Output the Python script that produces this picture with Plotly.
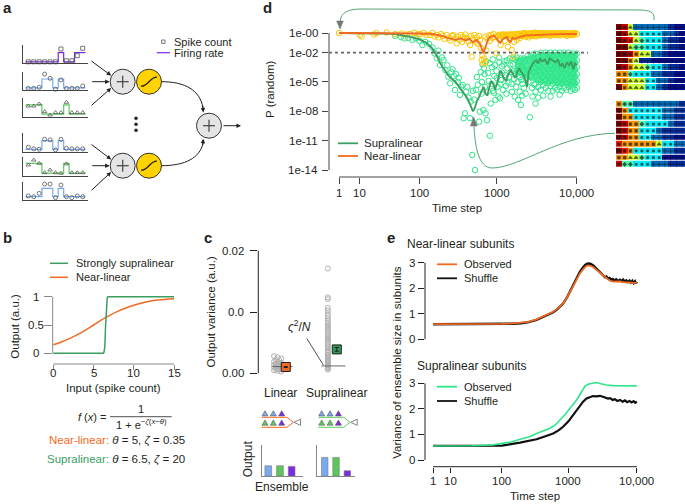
import math
import plotly.graph_objects as go

W, H = 685, 504
FONT = "Liberation Sans, Arial, Helvetica, sans-serif"
INK = "#231f20"
GREEN_LINE = "#3a9e5f"
GREEN_PT = "#2ee68a"
ORANGE = "#f26a21"
YELLOW = "#fcc500"
BLUE = "#78aaf2"
MGREEN = "#5cc85c"
PURPLE = "#7b2be2"

# ---------------- data ----------------
# panel a: firing rate (steps) and spike counts of six example inputs
a_rates = [
    [0.08, 0.08, 0.08, 0.08, 0.08, 0.08, 0.58, 0.08, 0.08, 0.58, 0.58],
    [0.12, 0.12, 0.12, 0.60, 0.60, 0.12, 0.60, 0.12, 0.12, 0.12, 0.12],
    [0.64, 0.64, 0.64, 0.13, 0.13, 0.13, 0.13, 0.64, 0.13, 0.13, 0.13],
    [0.12, 0.12, 0.12, 0.60, 0.60, 0.12, 0.60, 0.12, 0.12, 0.12, 0.12],
    [0.67, 0.67, 0.67, 0.13, 0.13, 0.13, 0.13, 0.67, 0.13, 0.13, 0.13],
    [0.18, 0.18, 0.18, 0.64, 0.64, 0.18, 0.64, 0.18, 0.18, 0.18, 0.18],
]
a_counts = [
    [0.08, 0.08, 0.08, 0.08, 0.08, 0.08, 0.78, 0.14, 0.14, 0.42, 0.82],
    [0.09, 0.09, 0.15, 0.87, 0.64, 0.04, 0.55, 0.09, 0.09, 0.09, 0.22],
    [0.58, 0.58, 0.69, 0.27, 0.09, 0.22, 0.22, 0.78, 0.22, 0.22, 0.22],
    [0.24, 0.15, 0.13, 0.67, 0.64, 0.09, 0.67, 0.18, 0.15, 0.15, 0.15],
    [0.58, 0.85, 0.67, 0.16, 0.31, 0.16, 0.13, 0.64, 0.16, 0.16, 0.16],
    [0.22, 0.18, 0.36, 0.87, 0.87, 0.13, 0.82, 0.18, 0.13, 0.22, 0.18],
]

# panel b: transfer functions
b_near_x = [0, 1, 2, 3, 4, 5, 6, 7, 8, 9, 10, 11, 12, 13, 14, 15]
b_near_y = [0.15, 0.20, 0.26, 0.33, 0.41, 0.50, 0.59, 0.67, 0.74, 0.80, 0.85, 0.89, 0.92, 0.94, 0.955, 0.965]
b_sup_x = [0, 6.2, 6.3, 6.4, 6.5, 6.6, 6.7, 6.8, 15]
b_sup_y = [0, 0, 0.02, 0.12, 0.5, 0.88, 0.98, 1, 1]
b_ticks_x = [0, 5, 10, 15]
b_ticks_y = [0, 0.5, 1]
b_tick_text_y = ["0", "0.5", "1"]

# panel c: output variance
lin_var = [0.0028, 0.0026, 0.0024, 0.0022, 0.0021, 0.0019, 0.0018, 0.0017, 0.0016, 0.0015,
           0.0014, 0.0013, 0.0012, 0.0012, 0.0011, 0.0010, 0.0009, 0.0008, 0.0007, 0.0006,
           0.0005, 0.0004, 0.0003]
sup_var = [0.0171, 0.0124, 0.0121, 0.0107, 0.0103, 0.0098, 0.0094, 0.0090, 0.0086, 0.0083,
           0.0080, 0.0077, 0.0074, 0.0071, 0.0068, 0.0065, 0.0062, 0.0059, 0.0056, 0.0053,
           0.0050, 0.0047, 0.0044, 0.0041, 0.0038, 0.0035, 0.0033, 0.0030, 0.0028, 0.0026,
           0.0024, 0.0022, 0.0020, 0.0018, 0.0016, 0.0014, 0.0012, 0.0010, 0.0008, 0.0006]
var_means = [0.00103, 0.0039]
var_sems = [0.00008, 0.0003]
var_expected = [0.0011, 0.0012]
c_ticks = [0, 0.01, 0.02]
c_tick_text = ["0.00", "0.0", "0.02"]
bar_linear = [0.33, 0.33, 0.31]
bar_supra = [0.60, 0.60, 0.17]

# panel d: P(random) over time (log10 values)
yel_t = [1, 10, 11, 20, 22, 33, 45, 56, 65, 74,
         85, 95, 102, 115, 125, 139, 150, 160, 171, 180,
         195, 205, 215, 230, 245, 255, 270, 281, 295, 310,
         320, 335, 350, 365, 377, 390, 400, 420, 440, 459,
         470, 482, 500, 520, 540, 560, 580, 600, 614, 630,
         645, 660, 677, 690, 710, 720, 740, 760, 790, 820,
         850, 880, 910, 950, 990, 1030, 1080, 1120, 1160, 1200,
         1260, 1320, 1380, 1440, 1500, 1540, 1610, 1650, 1700, 1780,
         1850, 1950, 2050, 2150, 2200, 2300, 2450, 2500, 2600, 2750,
         2900, 3000, 3100, 3300, 3500, 3600, 3750, 4000, 4300, 4600,
         4800, 5000, 5400, 5800, 6000, 6200, 6700, 7200, 7500, 7700,
         8200, 8800, 9000, 9400, 10000]
yel_p = [0, -0.2, -0.35, -0.15, 0, 0.05, -0.1, -0.05, -0.15, -0.1,
         0.02, -0.15, -0.1, 0, -0.2, -0.2, 0, -0.35, -0.2, -0.45,
         -0.1, -0.3, -0.6, -0.2, -0.5, -0.75, -0.3, -0.2, -0.55, -1.06,
         -0.35, -0.7, -0.2, -0.9, -0.4, -0.6, -0.15, -0.5, -0.85, -1.23,
         -0.3, -2.42, -0.6, -0.2, -0.9, -0.45, -1.1, -0.3, -0.7, -1.5,
         -2.76, -2.3, -3.1, -2.6, -3.0, -0.4, -1.8, -0.6, -0.25, -0.8,
         -0.2, -0.5, -0.1, -0.4, -2.08, -0.3, -0.7, -1.2, -0.4, -0.15,
         -0.8, -0.3, -1.4, -0.6, -0.2, -1.74, -2.42, -0.9, -0.4, -0.7,
         -0.1, -0.5, -0.3, -0.1, 0, -0.4, -0.2, -0.45, -0.05, -0.3,
         -0.15, 0.05, -0.35, -0.1, -0.25, -0.05, 0, -0.2, -0.1, -0.3,
         -0.15, -0.05, -0.2, -0.1, -0.05, -0.25, 0, -0.15, -0.3, -0.05,
         -0.2, -0.1, -0.2, 0, -0.1]
# solid-looking part of the near-linear cloud (upper / lower edge)
yband_t = [1000, 1500, 2200, 3000, 4000, 6000, 8000, 10000]
yband_hi = [0.12, 0.2, 0.28, 0.3, 0.3, 0.3, 0.3, 0.28]
yband_lo = [-0.45, -0.6, -0.6, -0.55, -0.5, -0.45, -0.42, -0.42]

grn_t = [45, 55, 62, 70, 80, 90, 100, 110, 120, 135,
         150, 160, 171, 180, 189, 200, 210, 222, 235, 242,
         255, 265, 275, 285, 295, 305, 320, 330, 342, 355,
         370, 380, 396, 410, 425, 440, 459, 470, 490, 500,
         520, 531, 545, 560, 575, 600, 610, 630, 650, 677,
         690, 700, 720, 751, 770, 790, 820, 840, 870, 900,
         930, 960, 990, 1020, 1050, 1080, 1100, 1130, 1160, 1200,
         1240, 1280, 1320, 1360, 1400, 1450, 1500, 1550, 1600, 1650,
         1700, 1750, 1800, 1850, 1900, 1950, 2000, 2050, 2100, 2150,
         2200, 2300, 2400, 2500, 2600, 2650, 2700, 2800, 2900, 2950,
         640, 660, 710, 735, 780, 810, 860, 890, 920, 950,
         1000, 1060, 1110, 1180, 1220, 1300, 1340, 1420, 1480, 1530,
         1580, 1630, 1680, 1720, 1780, 1830, 1880, 1930, 1980, 2030,
         2080, 2130, 2180, 2250, 2350, 2450, 2550, 2750, 2850, 2980]
grn_p = [-0.3, -0.42, -0.55, -0.5, -0.7, -0.55, -0.8, -1.23, -0.9, -1.1,
         -1.5, -2.08, -2.6, -1.8, -3.27, -2.5, -2.76, -3.8, -3.3, -4.46,
         -5.14, -4.0, -3.7, -4.4, -5.82, -4.2, -5.0, -4.6, -6.33, -5.5,
         -5.3, -8.7, -8.2, -6.0, -5.5, -6.6, -8.7, -7.0, -12.46, -5.9,
         -6.8, -14.0, -5.8, -4.5, -5.3, -9.06, -8.04, -4.0, -5.0, -7.87,
         -3.6, -4.2, -8.21, -8.9, -6.0, -4.9, -10.5, -7.2, -3.5, -5.9,
         -4.4, -6.84, -3.9, -5.5, -6.5, -3.0, -6.67, -4.8, -3.4, -5.8,
         -2.9, -4.3, -6.2, -3.6, -5.1, -2.6, -4.0, -6.0, -3.2, -4.7,
         -2.7, -5.5, -3.8, -6.84, -2.9, -4.5, -7.35, -3.5, -5.2, -2.6,
         -4.0, -6.2, -3.3, -5.0, -8.61, -2.4, -4.4, -6.5, -3.0, -5.3,
         -6.2, -3.2, -5.5, -2.9, -4.1, -3.1, -5.2, -2.7, -6.1, -3.3,
         -4.6, -2.5, -5.2, -4.1, -3.2, -5.4, -2.8, -4.5, -3.3, -5.2,
         -2.6, -3.9, -6.5, -4.2, -2.5, -5.0, -3.4, -6.0, -2.6, -4.8,
         -6.4, -3.8, -5.6, -2.9, -4.6, -2.3, -3.8, -5.6, -2.2, -4.0]
# dense late cloud, one column of values per time step
band_t = [3050, 3300, 3550, 3800, 4100, 4400, 4700, 5000, 5350, 5700,
          6100, 6500, 6900, 7400, 7900, 8400, 9000, 9500, 10000]
band_p = [
    [-2.1, -2.9, -3.6, -4.4, -5.2, -6.0, -7.2],
    [-2.4, -3.3, -3.9, -4.8, -5.5, -6.6],
    [-2.0, -2.7, -3.5, -4.2, -5.0, -5.8],
    [-2.3, -3.1, -3.8, -4.5, -5.3, -6.4],
    [-2.0, -2.6, -3.4, -4.1, -4.8, -5.6],
    [-2.2, -2.9, -3.7, -4.4, -5.1, -5.9],
    [-2.0, -2.6, -3.3, -4.0, -4.7, -5.4, -6.5],
    [-2.3, -3.0, -3.7, -4.5, -5.2, -5.9],
    [-2.0, -2.7, -3.4, -4.1, -4.8, -5.6],
    [-2.2, -2.9, -3.6, -4.3, -5.0, -5.8],
    [-2.0, -2.6, -3.3, -4.0, -4.7, -5.5, -6.3],
    [-2.3, -3.0, -3.7, -4.5, -5.2, -5.9],
    [-2.0, -2.7, -3.4, -4.1, -4.9, -5.6],
    [-2.2, -2.9, -3.6, -4.3, -5.1, -5.8],
    [-2.0, -2.6, -3.3, -4.0, -4.7, -5.5],
    [-2.3, -3.0, -3.8, -4.5, -5.3, -5.9],
    [-2.1, -2.8, -3.5, -4.2, -5.0, -5.7],
    [-2.3, -3.0, -3.7, -4.4, -5.1, -5.8],
    [-2.1, -2.8, -3.5, -4.2, -4.9, -5.6],
]
# solid-looking part of the supralinear cloud (upper / lower edge)
gband_t = [1700, 2200, 2800, 3400, 4000, 5000, 6000, 7000, 8000, 9000, 10000]
gband_hi = [-2.6, -2.4, -2.2, -2.0, -1.95, -1.95, -1.95, -1.95, -1.95, -1.95, -2.0]
gband_lo = [-4.2, -4.6, -4.9, -5.1, -5.3, -5.2, -5.5, -5.3, -5.6, -5.4, -5.5]

sup_t = [1, 5, 10, 20, 30, 45, 60, 80, 100, 125,
         150, 170, 190, 210, 240, 270, 300, 340, 380, 420,
         460, 500, 530, 560, 600, 640, 680, 720, 760, 800,
         850, 900, 950, 1000, 1050, 1100, 1150, 1200, 1300, 1400,
         1500, 1600, 1700, 1800, 1900, 2000, 2200, 2400, 2500, 2700,
         2900, 3100, 3300, 3500, 3700, 4000, 4300, 4600, 5000, 5400,
         5800, 6200, 6600, 7000, 7500, 8000, 8500, 9000, 9500, 10000]
sup_p = [0, 0, 0, -0.02, -0.05, -0.12, -0.25, -0.45, -0.65, -1.0,
         -1.6, -2.3, -3.1, -3.6, -4.3, -4.7, -5.0, -5.6, -6.2, -6.6,
         -7.3, -8.0, -7.6, -7.0, -6.5, -5.9, -5.5, -6.2, -6.4, -5.6,
         -4.9, -5.2, -5.8, -5.2, -4.6, -3.9, -4.0, -4.5, -4.9, -4.2,
         -3.8, -4.2, -4.6, -4.0, -3.6, -3.9, -4.4, -5.5, -4.0, -3.4,
         -3.0, -2.8, -3.1, -2.6, -2.9, -2.7, -3.2, -2.6, -2.8, -3.0,
         -2.7, -3.4, -3.1, -3.6, -3.0, -3.3, -2.9, -3.7, -3.1, -3.3]
nl_t = [1, 10, 30, 60, 100, 150, 200, 250, 300, 350,
        400, 450, 500, 560, 620, 680, 730, 780, 850, 930,
        1000, 1100, 1200, 1340, 1460, 1580, 1700, 1950, 2300, 3000,
        4000, 6000, 10000]
nl_p = [0, 0, 0, -0.02, -0.05, -0.1, -0.3, -0.55, -0.7, -0.55,
        -0.75, -0.6, -0.95, -0.7, -1.2, -2.05, -1.2, -0.6, -0.35, -0.3,
        -0.6, -1.0, -0.6, -0.4, -0.95, -0.5, -0.6, -0.4, -0.25, -0.2,
        -0.15, -0.12, -0.1]
d_ticks = [1, 10, 100, 1000, 10000]
d_tick_text = ["1", "10", "100", "1000", "10,000"]
p_ticks = [0, -2, -5, -8, -11, -14]
p_tick_text = ["1e-00", "1e-02", "1e-05", "1e-08", "1e-11", "1e-14"]

# example ensembles (jet colour codes per neuron)
heat_top = ["DRLAAAAAABNN", "DRLLCCCCAABN", "DROLGCCCABBN", "DDLGGCCCABBN", "DDRYLLAABNNN",
            "DDYLBBNNNNNN", "DRYLLGCCABBN", "YYGCCCAABBNN", "YYLLLCCAABNN", "DYLLLCCABNNN"]
heat_bot = ["YGGAAAAAAAAB", "DYCCCCCCAABB", "DYYCCCCCAABB", "DRYYGCCCCABB", "DRYYCCCABBBB",
            "DRYYCCAABBNN", "OYYYYYYLCCAA", "DOYCCCCCAABB", "YYLLGCCCNNNN", "RGGCCCAAABBB"]
heat_level = {"D": 1.0, "R": 0.88, "O": 0.78, "Y": 0.68, "L": 0.56, "G": 0.46,
              "C": 0.38, "A": 0.25, "B": 0.15, "N": 0.04}

# panel e: variance of ensemble size
near_t = [1, 10, 30, 60, 100, 150, 200, 260, 340, 420,
          500, 600, 680, 760, 840, 950, 1060, 1200, 1320, 1480,
          1650, 1800, 1950, 2100, 2300, 2600, 2910, 3300, 3600, 4000,
          4450, 5000, 5680, 6300, 7000, 8000, 9000, 10000]
near_obs = [0.59, 0.59, 0.59, 0.59, 0.60, 0.62, 0.64, 0.68, 0.78, 0.88,
            0.98, 1.08, 1.18, 1.30, 1.41, 1.62, 1.87, 2.12, 2.33, 2.58,
            2.74, 2.85, 2.89, 2.88, 2.83, 2.72, 2.61, 2.48, 2.39, 2.30,
            2.26, 2.26, 2.27, 2.24, 2.22, 2.22, 2.21, 2.21]
nshuf_t = [1, 10, 30, 60, 100, 150, 200, 260, 340, 420,
           500, 600, 680, 760, 840, 950, 1060, 1200, 1320, 1480,
           1650, 1800, 1950, 2100, 2300, 2500, 2700, 2910, 3100, 3300,
           3450, 3600, 3800, 4000, 4200, 4450, 4700, 5000, 5300, 5680,
           6000, 6300, 6650, 7000, 7400, 7800, 8200, 8600, 9000, 9400,
           9700, 10000]
nshuf_v = [0.59, 0.59, 0.59, 0.59, 0.59, 0.61, 0.63, 0.67, 0.76, 0.86,
           0.96, 1.06, 1.16, 1.28, 1.40, 1.62, 1.88, 2.15, 2.38, 2.64,
           2.82, 2.93, 2.97, 2.96, 2.90, 2.80, 2.70, 2.62, 2.55, 2.50,
           2.43, 2.46, 2.38, 2.40, 2.33, 2.36, 2.30, 2.35, 2.28, 2.33,
           2.27, 2.34, 2.26, 2.31, 2.24, 2.30, 2.22, 2.29, 2.20, 2.27,
           2.19, 2.25]
supe_t = [1, 10, 30, 72, 116, 150, 191, 260, 340, 440,
          540, 650, 756, 900, 1060, 1180, 1320, 1500, 1760, 2000,
          2300, 2600, 3000, 3600, 4500, 5680, 7000, 8500, 10000]
supe_obs = [0.55, 0.55, 0.56, 0.59, 0.68, 0.72, 0.81, 0.90, 1.04, 1.14,
            1.24, 1.38, 1.56, 1.78, 2.02, 2.18, 2.34, 2.58, 2.89, 2.97,
            3.01, 3.03, 2.98, 2.93, 2.91, 2.90, 2.90, 2.89, 2.90]
sshuf_t = [1, 10, 30, 100, 191, 260, 340, 450, 600, 720,
           840, 1000, 1180, 1400, 1650, 1850, 2080, 2300, 2600, 2910,
           3200, 3500, 3800, 4100, 4450, 4800, 5200, 5680, 6200, 6700,
           7200, 7800, 8400, 9000, 9500, 10000]
sshuf_v = [0.55, 0.55, 0.55, 0.56, 0.68, 0.74, 0.81, 0.92, 1.04, 1.16,
           1.30, 1.50, 1.76, 2.02, 2.28, 2.41, 2.47, 2.50, 2.49, 2.51,
           2.47, 2.44, 2.40, 2.42, 2.35, 2.38, 2.31, 2.35, 2.28, 2.33,
           2.26, 2.31, 2.25, 2.30, 2.24, 2.28]
e_ticks_y = [0, 1, 2, 3]


# ---------------- helpers ----------------
def xp(x):
    return x / W


def yp(y):
    return 1 - y / H


def ut(t):
    # the time axes are drawn on log10(t + 10)
    return math.log10(t + 10)


layout = dict(width=W, height=H, margin=dict(l=0, r=0, t=0, b=0),
              paper_bgcolor="white", plot_bgcolor="rgba(0,0,0,0)",
              showlegend=False, font=dict(family=FONT, size=11.5, color=INK))
shapes, annotations, traces = [], [], []
AX = {}


def add_axes(n, xdom, ydom, xr, yr):
    s = "" if n == 1 else str(n)
    AX[n] = (xdom, ydom, xr, yr)
    base = dict(showgrid=False, zeroline=False, showline=False,
                showticklabels=False, ticks="", fixedrange=True)
    layout["xaxis" + s] = dict(base, domain=[xp(xdom[0]), xp(xdom[1])], range=list(xr), anchor="y" + s)
    layout["yaxis" + s] = dict(base, domain=[yp(ydom[1]), yp(ydom[0])], range=list(yr), anchor="x" + s)
    return "x" + s, "y" + s


def fx(n, v):
    xdom, _, xr, _ = AX[n]
    return xdom[0] + (v - xr[0]) / (xr[1] - xr[0]) * (xdom[1] - xdom[0])


def fy(n, v):
    _, ydom, _, yr = AX[n]
    return ydom[1] - (v - yr[0]) / (yr[1] - yr[0]) * (ydom[1] - ydom[0])


def set_ticks(key, vals, ticklen=5, color=INK):
    layout[key].update(tickmode="array", tickvals=vals, ticks="outside",
                       ticklen=ticklen, tickwidth=1, tickcolor=color, showticklabels=False)


def add_line(x0, y0, x1, y1, color=INK, width=1, dash="solid"):
    shapes.append(dict(type="line", xref="paper", yref="paper", x0=xp(x0), y0=yp(y0),
                       x1=xp(x1), y1=yp(y1), line=dict(color=color, width=width, dash=dash)))


def svg(cmds):
    out = []
    for c in cmds:
        op, vals = c[0], c[1:]
        pts = ["%.5f,%.5f" % (xp(vals[i]), yp(vals[i + 1])) for i in range(0, len(vals), 2)]
        out.append(op + " " + " ".join(pts))
    return " ".join(out)


def add_path(cmds, color=INK, width=1, fill="rgba(0,0,0,0)"):
    shapes.append(dict(type="path", xref="paper", yref="paper", path=svg(cmds),
                       line=dict(color=color, width=width), fillcolor=fill))


def add_circle(cx, cy, r, fill, color="#333", width=1):
    shapes.append(dict(type="circle", xref="paper", yref="paper", x0=xp(cx - r), x1=xp(cx + r),
                       y0=yp(cy + r), y1=yp(cy - r), fillcolor=fill, line=dict(color=color, width=width)))


def add_text(s, x, y, size=11.5, color=INK, xa="left", angle=0):
    annotations.append(dict(text=s, x=xp(x), y=yp(y), xref="paper", yref="paper", showarrow=False,
                            xanchor=xa, yanchor="middle", textangle=angle, borderpad=0,
                            font=dict(family=FONT, size=size, color=color)))


def add_arrow(x0, y0, x1, y1, color="#222"):
    annotations.append(dict(text="", x=xp(x1), y=yp(y1), xref="paper", yref="paper",
                            ax=x0 - x1, ay=y0 - y1, showarrow=True, arrowhead=2,
                            arrowsize=0.9, arrowwidth=1, arrowcolor=color))


def xlabels(n, vals, texts, y):
    for v, s in zip(vals, texts):
        add_text(s, fx(n, v), y, xa="center")


def ylabels(n, vals, texts, x, xa="right"):
    for v, s in zip(vals, texts):
        add_text(s, x, fy(n, v), xa=xa)


# ---------------- panel a ----------------
a_colors = [PURPLE, BLUE, MGREEN, BLUE, MGREEN, BLUE]
a_symbols = ["square-open", "circle-open", "triangle-up-open", "circle-open", "triangle-up-open", "circle-open"]
a_tops = [45, 71.7, 98.3, 133.3, 157.3, 181.7]
for i in range(6):
    xa, ya = add_axes(10 + i, (22.7, 88), (a_tops[i], a_tops[i] + 18.3), (-1.03, 10.97), (0, 1))
    layout["xaxis" + str(10 + i)].update(showline=True, linecolor="#444", linewidth=0.8)
    layout["yaxis" + str(10 + i)].update(showline=True, linecolor="#444", linewidth=0.8)
    rate = a_rates[i]
    traces.append(go.Scatter(x=[k - 0.5 for k in range(len(rate) + 1)], y=rate + [rate[-1]],
                             mode="lines", line=dict(color=a_colors[i], width=1.2, shape="hv"),
                             xaxis=xa, yaxis=ya))
    traces.append(go.Scatter(x=list(range(len(a_counts[i]))), y=a_counts[i], mode="markers",
                             marker=dict(symbol=a_symbols[i], size=4, color="#555", line=dict(width=0.8)),
                             cliponaxis=False, xaxis=xa, yaxis=ya))

for cy in (81.7, 165.7):
    add_circle(122.7, cy, 12.5, "#e4e4e4")
    add_line(116.7, cy, 128.7, cy, "#444", 1.2)
    add_line(122.7, cy - 6, 122.7, cy + 6, "#444", 1.2)
    add_circle(149, cy, 12.5, "#ffd200")
    add_path([("M", 141, cy + 4.5), ("C", 148, cy + 5, 150, cy - 5, 157, cy - 4.5)], INK, 1.3)
add_circle(209, 125.7, 12.5, "#e4e4e4")
add_line(203, 125.7, 215, 125.7, "#444", 1.2)
add_line(209, 119.7, 209, 131.7, "#444", 1.2)
for dy in (118.3, 124.3, 130.3):
    add_circle(136, dy, 1.5, "#222", "#222", 0.5)

add_arrow(90, 60, 111.2, 75.6)
add_arrow(90.7, 81.7, 109.6, 81.7)
add_arrow(90, 106.7, 111.2, 88)
add_arrow(90, 143.3, 111.2, 159.5)
add_arrow(90.7, 165.7, 109.6, 165.7)
add_arrow(90, 191.7, 111.2, 172)
add_arrow(222, 125.7, 241, 125.7)
add_path([("M", 161.5, 81.7), ("C", 185, 81.7, 200, 90, 203, 108)], INK, 1)
add_arrow(202.6, 104, 203.3, 112.5)
add_path([("M", 161.5, 165.7), ("C", 185, 165.7, 200, 158, 203, 143)], INK, 1)
add_arrow(202.6, 147, 203.3, 138.8)

shapes.append(dict(type="rect", xref="paper", yref="paper", x0=xp(161.6), x1=xp(165), y0=yp(43.4),
                   y1=yp(40), line=dict(color="#555", width=0.8)))
add_line(156.7, 52.7, 170, 52.7, PURPLE, 1.2)
add_text("Spike count", 173.3, 41.7, 11)
add_text("Firing rate", 173.3, 52.7, 11)

# ---------------- panel d ----------------
xa, ya = add_axes(1, (329, 600), (20, 177), (0.917, 4.288), (-14.71, 1.33))
set_ticks("xaxis", [ut(v) for v in d_ticks], 6, "#444")
set_ticks("yaxis", p_ticks, 6, "#444")
xlabels(1, [ut(v) for v in d_ticks], d_tick_text, 192.7)
ylabels(1, p_ticks, p_tick_text, 318.5)

grn_all_t = list(grn_t)
grn_all_p = list(grn_p)
for t, col in zip(band_t, band_p):
    for v in col:
        grn_all_t.append(t)
        grn_all_p.append(v)
traces.append(go.Scatter(x=[ut(t) for t in gband_t] + [ut(t) for t in gband_t[::-1]],
                         y=gband_hi + gband_lo[::-1], mode="lines", fill="toself",
                         fillcolor="rgba(46,230,138,0.85)", line=dict(width=0),
                         hoverinfo="skip", xaxis=xa, yaxis=ya))
traces.append(go.Scatter(x=[ut(t) for t in grn_all_t], y=grn_all_p, mode="markers",
                         marker=dict(symbol="circle-open", size=5.5, color=GREEN_PT, line=dict(width=1)),
                         xaxis=xa, yaxis=ya))
traces.append(go.Scatter(x=[ut(t) for t in yband_t] + [ut(t) for t in yband_t[::-1]],
                         y=yband_hi + yband_lo[::-1], mode="lines", fill="toself",
                         fillcolor="rgba(252,197,0,0.85)", line=dict(width=0),
                         hoverinfo="skip", xaxis=xa, yaxis=ya))
traces.append(go.Scatter(x=[ut(t) for t in yel_t], y=yel_p, mode="markers",
                         marker=dict(symbol="circle-open", size=5.5, color=YELLOW, line=dict(width=1)),
                         xaxis=xa, yaxis=ya))
traces.append(go.Scatter(x=[ut(t) for t in sup_t], y=sup_p, mode="lines",
                         line=dict(color=GREEN_LINE, width=1.8), xaxis=xa, yaxis=ya))
traces.append(go.Scatter(x=[ut(t) for t in nl_t], y=nl_p, mode="lines",
                         line=dict(color=ORANGE, width=1.8), xaxis=xa, yaxis=ya))
add_line(329, fy(1, 0), 329, fy(1, -14), "#444")
add_line(fx(1, ut(1)), 177, fx(1, ut(10000)), 177, "#444")
add_line(329, fy(1, -2), 588, fy(1, -2), "#666", 1.6, "3px,3px")
add_line(338, 143.3, 358, 143.3, GREEN_LINE, 1.8)
add_line(338, 156, 358, 156, ORANGE, 1.8)
add_text("Supralinear", 363, 143.3)
add_text("Near-linear", 363, 156)
add_text("P (random)", 270, 90, angle=-90, xa="center")
add_text("Time step", 456.7, 208.3, xa="center")

# ensemble heat maps
for n, block, top in ((2, heat_top, 24), (3, heat_bot, 100.7)):
    xa, ya = add_axes(n, (616, 685), (top, top + 67), (-0.5, 11.5), (9.5, -0.5))
    z = [[heat_level[c] for c in row] for row in block]
    traces.append(go.Heatmap(z=z, colorscale="Jet", zmin=0, zmax=1, showscale=False,
                             ygap=1, xaxis=xa, yaxis=ya, hoverinfo="skip"))
    mx, my, ms, msz = [], [], [], []
    for r, row in enumerate(block):
        for k, c in enumerate(row):
            mx.append(k)
            my.append(r)
            if c in "DROY":
                ms.append("square"); msz.append(2.6)
            elif c == "L":
                ms.append("triangle-up"); msz.append(3.4)
            elif c == "G":
                ms.append("diamond"); msz.append(3.2)
            elif c == "C":
                ms.append("square"); msz.append(2.0)
            else:
                ms.append("cross-thin-open"); msz.append(4)
    traces.append(go.Scatter(x=mx, y=my, mode="markers", hoverinfo="skip",
                             marker=dict(symbol=ms, size=msz, color="#151515",
                                         line=dict(color="#151515", width=0.7)),
                             xaxis=xa, yaxis=ya))

add_path([("M", 654, 20), ("C", 655, 12, 650, 10, 638, 10), ("L", 362, 9),
          ("C", 348, 9, 341, 12, 340, 22)], "#52a676", 1)
add_path([("M", 336.6, 21), ("L", 343.4, 21), ("L", 340, 29), ("Z",)], "#777", 0.5, "#777")
add_path([("M", 615, 133.3), ("C", 560, 134, 520, 168, 492, 168),
          ("C", 478, 168, 475, 145, 474, 126)], "#52a676", 1)
add_path([("M", 470.4, 126), ("L", 477.4, 126), ("L", 473.7, 117), ("Z",)], "#777", 0.5, "#777")

# ---------------- panel b ----------------
xa, ya = add_axes(4, (52.7, 180), (286, 364), (-0.075, 15.74), (-0.189, 1.189))
set_ticks("xaxis4", b_ticks_x, 5, "#888")
set_ticks("yaxis4", b_ticks_y, 8, "#888")
xlabels(4, b_ticks_x, [str(v) for v in b_ticks_x], 372.7)
ylabels(4, b_ticks_y, b_tick_text_y, 35.5, xa="center")
traces.append(go.Scatter(x=b_near_x, y=b_near_y, mode="lines", line=dict(color=ORANGE, width=1.5, shape="spline"),
                         xaxis=xa, yaxis=ya))
traces.append(go.Scatter(x=b_sup_x, y=b_sup_y, mode="lines", line=dict(color=GREEN_LINE, width=1.5),
                         xaxis=xa, yaxis=ya))
add_line(52.7, fy(4, 0), 52.7, fy(4, 1), "#888")
add_line(fx(4, 0), 364, fx(4, 15), 364, "#888")
add_line(50, 263.3, 68, 263.3, GREEN_LINE, 1.5)
add_line(50, 277.3, 68, 277.3, ORANGE, 1.5)
add_text("Strongly supralinear", 75, 263.3, 11)
add_text("Near-linear", 75, 277.3, 11)
add_text("Output (a.u.)", 15, 326.7, angle=-90, xa="center")
add_text("Input (spike count)", 113.3, 388.3, xa="center")
add_text("<i>f</i> (<i>x</i>) =", 107, 416.7, 11, xa="right")
add_text("1", 141, 409.3, 11, xa="center")
add_line(110, 416.7, 171.7, 416.7, INK, 0.8)
add_text("1 + e<sup>−<i>ζ</i>(<i>x</i>−<i>θ</i>)</sup>", 141, 424.3, 11, xa="center")
add_text("<span style='color:%s'>Near-linear:</span> <i>θ</i> = 5, <i>ζ</i> = 0.35" % ORANGE,
         116.7, 440.3, 11.5, xa="center")
add_text("<span style='color:%s'>Supralinear:</span> <i>θ</i> = 6.5, <i>ζ</i> = 20" % GREEN_LINE,
         116, 459.3, 11.5, xa="center")

# ---------------- panel c ----------------
xa, ya = add_axes(5, (258.3, 360), (245, 376), (0.621, 2.615), (-0.00044, 0.02093))
set_ticks("yaxis5", c_ticks, 7, INK)
ylabels(5, c_ticks, c_tick_text, 245.5)
traces.append(go.Scatter(x=[1 + ((k * 7) % 5 - 2) * 0.035 for k in range(len(lin_var))], y=lin_var,
                         mode="markers", marker=dict(symbol="circle-open", size=5, color="#b0b0b0",
                                                     line=dict(width=1)), xaxis=xa, yaxis=ya))
traces.append(go.Scatter(x=[2 + ((k * 3) % 3 - 1) * 0.015 for k in range(len(sup_var))], y=sup_var,
                         mode="markers", marker=dict(symbol="circle-open", size=5, color="#b0b0b0",
                                                     line=dict(width=1)), xaxis=xa, yaxis=ya))
for g, (lo, hi) in enumerate(((0.9, 1.29), (1.86, 2.33))):
    traces.append(go.Scatter(x=[lo, hi], y=[var_expected[g]] * 2, mode="lines",
                             line=dict(color="#666", width=1), xaxis=xa, yaxis=ya))
traces.append(go.Scatter(x=[1.16, 2.16], y=var_means, mode="markers",
                         marker=dict(symbol="square", size=9, color=[ORANGE, "#2e9a52"],
                                     line=dict(color=INK, width=1)), xaxis=xa, yaxis=ya))
traces.append(go.Scatter(x=[1.16, 2.16], y=var_means, mode="markers", marker=dict(size=1, opacity=0),
                         error_y=dict(type="data", array=var_sems, color=INK, thickness=1, width=2),
                         xaxis=xa, yaxis=ya))
add_line(258.3, fy(5, 0), 258.3, fy(5, 0.02), INK)
add_line(306.7, 338.3, 323.3, 365, INK, 0.8)
add_text("<i>ς</i><sup>2</sup>/<i>N</i>", 299, 326, 12, xa="center")
add_text("Output variance (a.u.)", 210, 312.5, angle=-90, xa="center")
add_text("Linear", 280, 393.3, 12, xa="center")
add_text("Supralinear", 336.7, 393.3, 12, xa="center")


def tri(cx, cy, color):
    add_path([("M", cx - 3, cy + 2.6), ("L", cx + 3, cy + 2.6), ("L", cx, cy - 2.6), ("Z",)],
             "#555", 0.6, color)


for ox, wire in ((0, ORANGE), (56.7, MGREEN)):
    add_path([("M", 261.7 + ox, 417.3), ("L", 287 + ox, 417.3), ("L", 293.3 + ox, 422.3),
              ("L", 287 + ox, 427.3), ("L", 261.7 + ox, 427.3)], wire, 1)
    for k, col in enumerate((BLUE, BLUE, PURPLE)):
        tri(265 + ox + 8.35 * k, 413.3, col)
    for k, col in enumerate((MGREEN, MGREEN, PURPLE)):
        tri(265 + ox + 8.35 * k, 422.6, col)
    add_path([("M", 294 + ox, 422.3), ("L", 300.5 + ox, 419.2), ("L", 300.5 + ox, 425.4), ("Z",)],
             "#666", 0.8, "white")

bar_colors = [BLUE, MGREEN, PURPLE]
for n, xdom, xr, vals in ((6, (261.7, 303), (-0.56, 2.97), bar_linear),
                          (7, (317.3, 355), (-0.66, 2.68), bar_supra)):
    xa, ya = add_axes(n, xdom, (445, 476), xr, (0, 1))
    layout["xaxis" + str(n)].update(showline=True, linecolor="#888", linewidth=1)
    layout["yaxis" + str(n)].update(showline=True, linecolor="#888", linewidth=1)
    traces.append(go.Bar(x=[0, 1, 2], y=vals, width=0.57,
                         marker=dict(color=bar_colors, line=dict(color="#777", width=0.6)),
                         xaxis=xa, yaxis=ya))
add_text("Output", 248.3, 459, 12, angle=-90, xa="center")
add_text("Ensemble", 281.7, 486.7, 12, xa="center")

# ---------------- panel e ----------------
xa, ya = add_axes(8, (425, 650), (258, 345), (0.925, 4.191), (-0.224, 3.184))
set_ticks("yaxis8", e_ticks_y, 6, INK)
ylabels(8, e_ticks_y, [str(v) for v in e_ticks_y], 415.5)
traces.append(go.Scatter(x=[ut(t) for t in nshuf_t], y=nshuf_v, mode="lines",
                         line=dict(color="#111", width=2.4), xaxis=xa, yaxis=ya))
traces.append(go.Scatter(x=[ut(t) for t in near_t], y=near_obs, mode="lines",
                         line=dict(color=ORANGE, width=1.8), xaxis=xa, yaxis=ya))
add_line(425, fy(8, 0), 425, fy(8, 3), INK)

xa, ya = add_axes(9, (425, 650), (378, 466.7), (0.925, 4.191), (-0.262, 3.207))
set_ticks("yaxis9", e_ticks_y, 6, INK)
set_ticks("xaxis9", [ut(v) for v in d_ticks], 5, INK)
ylabels(9, e_ticks_y, [str(v) for v in e_ticks_y], 415.5)
xlabels(9, [ut(v) for v in d_ticks], d_tick_text, 480.5)
traces.append(go.Scatter(x=[ut(t) for t in sshuf_t], y=sshuf_v, mode="lines",
                         line=dict(color="#111", width=2.2), xaxis=xa, yaxis=ya))
traces.append(go.Scatter(x=[ut(t) for t in supe_t], y=supe_obs, mode="lines",
                         line=dict(color=GREEN_PT, width=1.6), xaxis=xa, yaxis=ya))
add_line(425, fy(9, 0), 425, fy(9, 3), INK)
add_line(fx(9, ut(1)), 466.7, fx(9, ut(10000)), 466.7, INK)

add_text("Near-linear subunits", 405.7, 244, 12)
add_text("Supralinear subunits", 415.7, 365.7, 12)
add_text("Variance of ensemble size in subunits", 396.7, 363, angle=-90, xa="center")
for yy, col, lab in ((264.3, ORANGE, "Observed"), (278.3, "#111", "Shuffle"),
                     (386.7, GREEN_PT, "Observed"), (401, "#111", "Shuffle")):
    add_line(437, yy, 457, yy, col, 1.8)
    add_text(lab, 462.7, yy, 11)
add_text("Time step", 535, 496, xa="center")

# panel letters
for s, x, y in (("a", 2, 8), ("d", 262, 8), ("b", 2, 237), ("c", 203, 237), ("e", 386, 237)):
    add_text("<b>%s</b>" % s, x, y, 15)

layout["shapes"] = shapes
layout["annotations"] = annotations
fig = go.Figure(data=traces, layout=layout)
# the page's default 8px body margin would shift the whole figure
fig.write_html("out.html", config={"displayModeBar": False},
               post_script="document.body.style.margin='0px';document.body.style.overflow='hidden';")
